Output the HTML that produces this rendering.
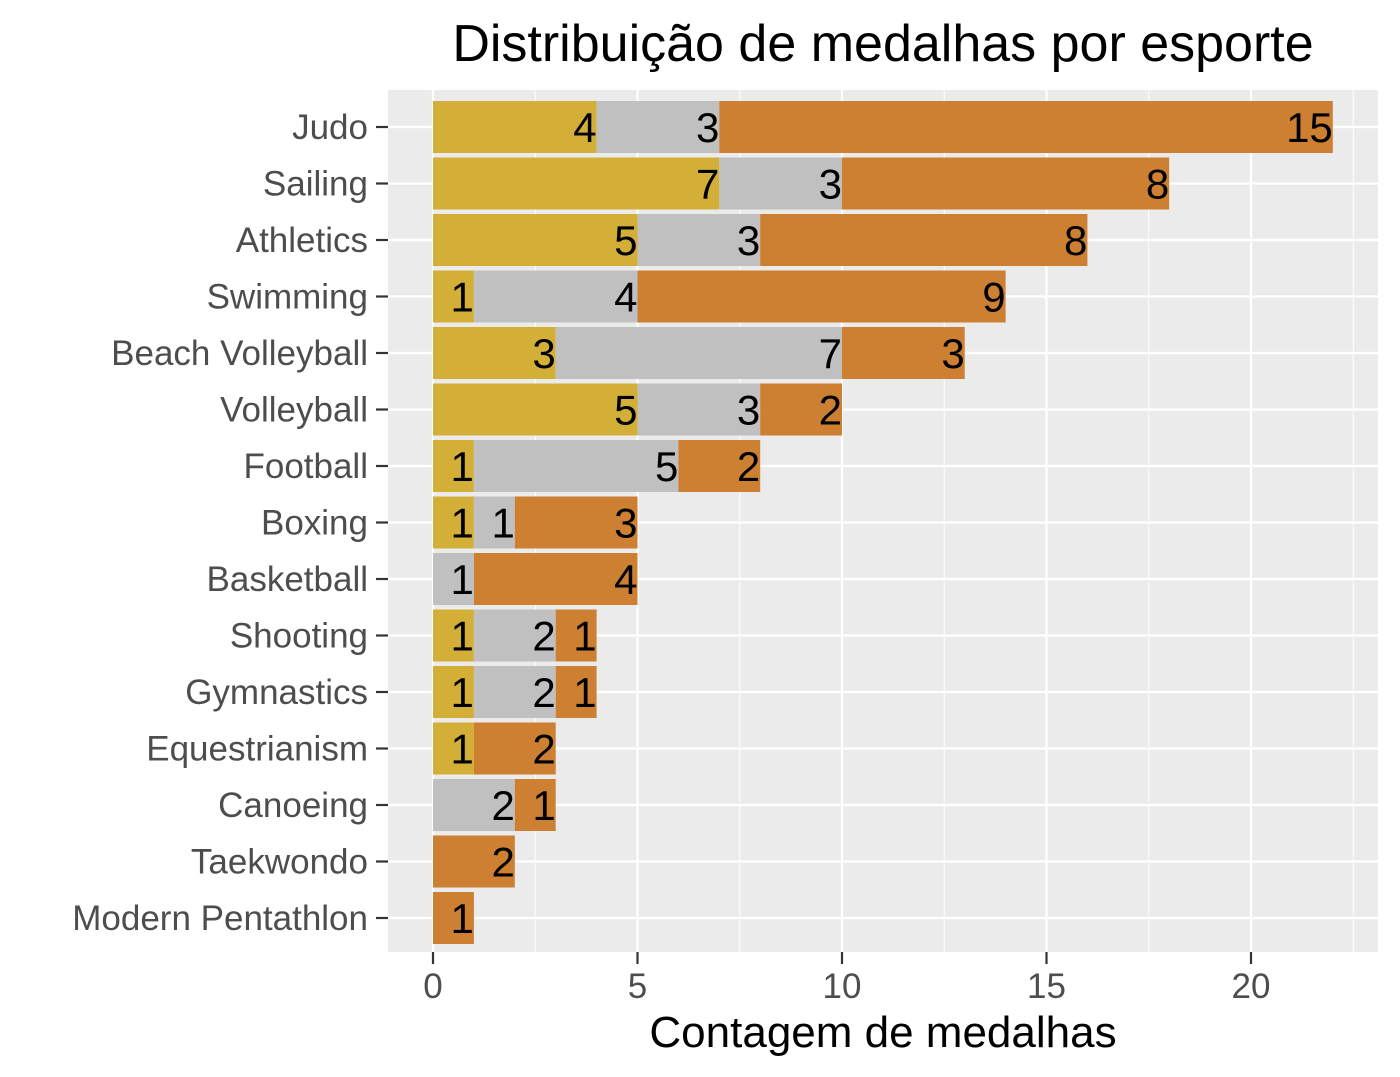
<!DOCTYPE html>
<html><head><meta charset="utf-8"><style>body{margin:0;background:#fff}svg{display:block;font-family:"Liberation Sans",Arial,sans-serif}</style></head>
<body>
<svg id="c" width="1400" height="1077"></svg>
<script>
const sports=["Judo","Sailing","Athletics","Swimming","Beach Volleyball","Volleyball","Football","Boxing","Basketball","Shooting","Gymnastics","Equestrianism","Canoeing","Taekwondo","Modern Pentathlon"];
const gold=[4,7,5,1,3,5,1,1,0,1,1,1,0,0,0];
const silver=[3,3,3,4,7,3,5,1,1,2,2,0,2,0,0];
const bronze=[15,8,8,9,3,2,2,3,4,1,1,2,1,2,1];
const xTicks=[0,5,10,15,20];
const NS="http://www.w3.org/2000/svg";
const svg=document.getElementById('c');
const px0=388,px1=1378,py0=90,py1=952;
const X=v=>433+v*40.9;
const Y=i=>127+i*56.5;
function el(t,a,p){const e=document.createElementNS(NS,t);for(const k in a)e.setAttribute(k,a[k]);(p||svg).appendChild(e);return e;}
const bg=el('rect',{x:px0,y:py0,width:px1-px0,height:py1-py0,fill:'#EBEBEB'});


for(let v=2.5;v<23;v+=5){el('line',{x1:X(v),x2:X(v),y1:py0,y2:py1,stroke:'#fff','stroke-width':1});}
xTicks.forEach(v=>el('line',{x1:X(v),x2:X(v),y1:py0,y2:py1,stroke:'#fff','stroke-width':2.2}));
sports.forEach((s,i)=>el('line',{x1:px0,x2:px1,y1:Y(i),y2:Y(i),stroke:'#fff','stroke-width':2.2}));
const cols=['#D4AF37','#C0C0C0','#CD7F32'];const names=['gold','silver','bronze'];
sports.forEach((s,i)=>{
  let acc=0;
  [gold[i],silver[i],bronze[i]].forEach((v,k)=>{
    if(v<=0)return;
    const r=el('rect',{x:X(acc),y:Y(i)-26,width:X(acc+v)-X(acc),height:52,fill:cols[k]});
    
    
    acc+=v;
    const t=el('text',{x:X(acc),y:Y(i)+15,'text-anchor':'end','font-size':42,fill:'#000'});
    t.textContent=v;
    
    
  });
  el('line',{x1:376,x2:388,y1:Y(i),y2:Y(i),stroke:'#333','stroke-width':2.2});
  const l=el('text',{x:368,y:Y(i)+12,'text-anchor':'end','font-size':35,fill:'#4D4D4D'});
  l.textContent=s;
  
  
});
xTicks.forEach(v=>{
  el('line',{x1:X(v),x2:X(v),y1:952,y2:964,stroke:'#333','stroke-width':2.2});
  const t=el('text',{x:X(v),y:998,'text-anchor':'middle','font-size':35,fill:'#4D4D4D'});
  t.textContent=v;
  
  
});
const xt=el('text',{x:883,y:1047,'text-anchor':'middle','font-size':44,fill:'#000'});
xt.textContent='Contagem de medalhas';


const ti=el('text',{x:883,y:61,'text-anchor':'middle','font-size':52,fill:'#000'});
ti.textContent='Distribuição de medalhas por esporte';


</script>
</body></html>
